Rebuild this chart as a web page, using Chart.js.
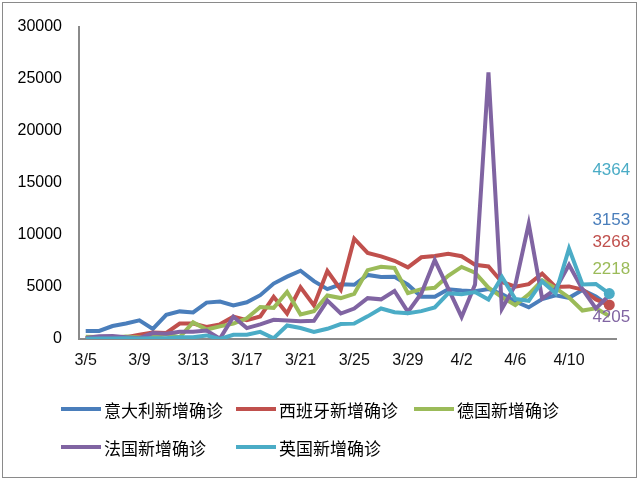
<!DOCTYPE html>
<html>
<head>
<meta charset="utf-8">
<script src="https://cdn.jsdelivr.net/npm/chart.js@4.4.0/dist/chart.umd.min.js"></script>
<style>
    body { margin: 0; background: #fff; }
    #wrap { position: absolute; left: 0; top: 0; width: 640px; height: 480px; }
    #frame { position: absolute; left: 2px; top: 2px; width: 633px; height: 474px; border: 1px solid #8a8a8a; }
    canvas { position: absolute; left: 0; top: 0; }
    .legend-item { position: absolute; height: 20px; display: flex; align-items: center;
        font-family: "Noto Sans CJK SC", sans-serif; font-size: 17px; color: #000; white-space: nowrap; }
    .legend-item span.swatch { display: inline-block; width: 40px; height: 4px; margin-right: 3px; }
</style>
</head>
<body>
<div id="wrap">
    <div id="frame"></div>
    <canvas id="covidChart" width="640" height="480"></canvas>
    <div id="legend"></div>
</div>
<script>
// x axis dates
const dates = ['3/5', '3/6', '3/7', '3/8', '3/9', '3/10', '3/11', '3/12', '3/13', '3/14',
    '3/15', '3/16', '3/17', '3/18', '3/19', '3/20', '3/21', '3/22', '3/23', '3/24',
    '3/25', '3/26', '3/27', '3/28', '3/29', '3/30', '3/31', '4/1', '4/2', '4/3',
    '4/4', '4/5', '4/6', '4/7', '4/8', '4/9', '4/10', '4/11', '4/12', '4/13'];

// daily new confirmed cases
const italy = [769, 778, 1247, 1492, 1797, 977, 2313, 2651, 2547, 3497,
    3590, 3233, 3526, 4207, 5322, 5986, 6557, 5560, 4789, 5249,
    5210, 6153, 5959, 5974, 5217, 4050, 4053, 4782, 4668, 4585,
    4805, 4316, 3599, 3039, 3836, 4204, 3951, 4694, 4092, 3153];
const spain = [37, 141, 100, 173, 400, 622, 582, 1478, 1477, 1159,
    1407, 2144, 1806, 2162, 4053, 2447, 4964, 3229, 6533, 4749,
    9630, 8271, 7933, 7516, 6875, 7846, 7967, 8195, 7947, 7134,
    6969, 5478, 5029, 5267, 6278, 5002, 5051, 4754, 3804, 3268];
const germany = [220, 188, 129, 241, 136, 281, 451, 170, 1597, 910,
    1210, 1477, 1985, 3070, 2993, 4528, 2365, 2660, 4183, 3930,
    4337, 6615, 6933, 6824, 4400, 4790, 4923, 6064, 6922, 6365,
    4933, 4031, 3251, 4289, 5633, 4885, 3990, 2737, 2946, 2218];
const france = [92, 276, 296, 177, 83, 575, 500, 691, 692, 813,
    33, 2137, 1049, 1406, 1842, 1779, 1705, 1745, 3680, 2448,
    2929, 3922, 3809, 4611, 2599, 4376, 7578, 4861, 2116, 5233,
    25615, 2886, 5171, 11059, 3881, 4799, 7120, 4785, 2937, 4205];
const uk = [30, 48, 43, 67, 48, 62, 75, 172, 171, 342,
    1, 406, 409, 682, 74, 1298, 1053, 678, 981, 1438,
    1476, 2172, 2933, 2567, 2468, 2673, 3028, 4384, 4308, 4516,
    3788, 5959, 3843, 3670, 5525, 4398, 8681, 5233, 5288, 4364];

const seriesNames = ['意大利新增确诊', '西班牙新增确诊', '德国新增确诊', '法国新增确诊', '英国新增确诊'];
const seriesColors = ['#4a7ebb', '#c0504d', '#9bbb59', '#8064a2', '#4bacc6'];

// vertical offset of the value label next to the last point
const endLabelDy = [-86, -63, -47, 22, -123];
const endMarker = [false, true, false, false, true];

const seriesData = [italy, spain, germany, france, uk];
const lastIdx = dates.length - 1;

const datasets = seriesData.map((values, i) => ({
    label: seriesNames[i],
    data: values,
    borderColor: seriesColors[i],
    backgroundColor: seriesColors[i],
    borderWidth: 4,
    tension: 0,
    order: 5 - i,
    pointRadius: ctx => (endMarker[i] && ctx.dataIndex === lastIdx) ? 5.5 : 0,
    pointBorderWidth: 0
}));

// value labels at the end of each line
const endLabels = {
    id: 'endLabels',
    afterDatasetsDraw(chart) {
        const ctx = chart.ctx;
        ctx.save();
        ctx.font = '17px "Liberation Sans", Arial, sans-serif';
        ctx.textAlign = 'center';
        ctx.textBaseline = 'middle';
        chart.data.datasets.forEach((ds, i) => {
            const meta = chart.getDatasetMeta(i);
            const pt = meta.data[lastIdx];
            ctx.fillStyle = ds.borderColor;
            ctx.fillText(String(ds.data[lastIdx]), pt.x + 2, pt.y + endLabelDy[i]);
        });
        ctx.restore();
    }
};

const tickFont = { family: '"Liberation Sans", Arial, sans-serif', size: 16 };

new Chart(document.getElementById('covidChart').getContext('2d'), {
    type: 'line',
    data: { labels: dates, datasets: datasets },
    options: {
        responsive: false,
        animation: false,
        layout: { padding: { left: 0, top: 25, right: 24, bottom: 101 } },
        plugins: {
            legend: { display: false },
            tooltip: { enabled: false }
        },
        scales: {
            x: {
                offset: true,
                grid: { display: false, drawTicks: false },
                border: { display: true, color: '#8a8a8a', width: 2 },
                ticks: {
                    autoSkip: false,
                    maxRotation: 0,
                    padding: 12,
                    color: '#111',
                    font: tickFont,
                    callback: function (val, idx) {
                        return idx % 4 === 0 ? dates[idx] : '';
                    }
                },
                afterFit: function (scale) { scale.height = 40; }
            },
            y: {
                min: 0,
                max: 30000,
                grid: { display: false, drawTicks: false },
                border: { display: true, color: '#8a8a8a', width: 2 },
                ticks: {
                    stepSize: 5000,
                    padding: 17,
                    color: '#000',
                    font: tickFont,
                    callback: function (val) { return String(val); }
                },
                afterFit: function (scale) { scale.width = 79; }
            }
        }
    },
    plugins: [endLabels]
});

// legend, two rows like the original
const legendPos = [[61, 409], [236, 409], [414, 409], [61, 447], [236, 447]];
const legendBox = document.getElementById('legend');
seriesNames.forEach((name, i) => {
    const item = document.createElement('div');
    item.className = 'legend-item';
    item.style.left = legendPos[i][0] + 'px';
    item.style.top = (legendPos[i][1] - 10) + 'px';
    item.innerHTML = '<span class="swatch" style="background:' + seriesColors[i] + '"></span>' + name;
    legendBox.appendChild(item);
});
</script>
</body>
</html>
